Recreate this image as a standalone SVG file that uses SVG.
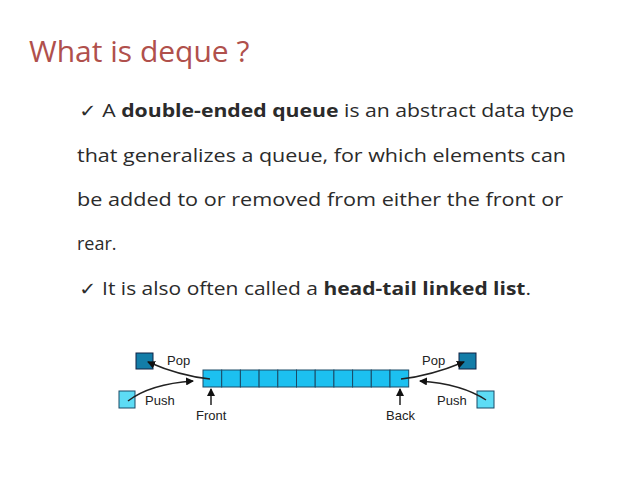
<svg xmlns="http://www.w3.org/2000/svg" width="638" height="479" viewBox="0 0 638 479">
<style>
.t{font-family:"Open Sans","Liberation Sans",sans-serif;font-size:18px;fill:#2b2b2b}
.l{font-family:"Liberation Sans",Arial,sans-serif;font-size:13px;fill:#222}
.c{fill:#1cc0f0;stroke:#1a4a66;stroke-width:1}
.ln{fill:none;stroke:#222;stroke-width:1.5}
</style>
<defs><marker id="a" markerWidth="8" markerHeight="8" refX="7" refY="4" orient="auto" markerUnits="userSpaceOnUse"><path d="M0,0L8,4L0,8z" fill="#111"/></marker></defs>
<rect width="638" height="479" fill="#fff"/>
<text x="29" y="62" font-family="'Open Sans','Liberation Sans',sans-serif" font-size="30" fill="#b0504c">What is deque ?</text>
<text class="t" x="79" y="117" textLength="495" lengthAdjust="spacingAndGlyphs"><tspan font-family="DejaVu Sans" font-weight="bold">✓</tspan> A <tspan font-weight="bold">double-ended queue</tspan> is an abstract data type</text>
<text class="t" x="77" y="162" textLength="489" lengthAdjust="spacingAndGlyphs">that generalizes a queue, for which elements can</text>
<text class="t" x="77" y="206" textLength="486" lengthAdjust="spacingAndGlyphs">be added to or removed from either the front or</text>
<text class="t" x="77" y="250">rear.</text>
<text class="t" x="79" y="295" textLength="452" lengthAdjust="spacingAndGlyphs"><tspan font-family="DejaVu Sans" font-weight="bold">✓</tspan> It is also often called a <tspan font-weight="bold">head-tail linked list</tspan>.</text>
<g id="queue">
<rect class="c" x="203" y="370" width="18.7" height="17"/><rect class="c" x="221.7" y="370" width="18.7" height="17"/><rect class="c" x="240.4" y="370" width="18.7" height="17"/><rect class="c" x="259.1" y="370" width="18.7" height="17"/><rect class="c" x="277.8" y="370" width="18.7" height="17"/><rect class="c" x="296.5" y="370" width="18.7" height="17"/><rect class="c" x="315.2" y="370" width="18.7" height="17"/><rect class="c" x="333.9" y="370" width="18.7" height="17"/><rect class="c" x="352.6" y="370" width="18.7" height="17"/><rect class="c" x="371.3" y="370" width="18.7" height="17"/><rect class="c" x="390" y="370" width="18.7" height="17"/>
</g>
<g id="popL"><rect x="136" y="353" width="17" height="16" fill="#137da8" stroke="#124" /></g>
<g id="pushL"><rect x="119" y="391" width="16" height="17" fill="#5ddcf5" stroke="#1a4a66"/></g>
<g id="popR"><rect x="459" y="353" width="17" height="16" fill="#137da8" stroke="#124"/></g>
<g id="pushR"><rect x="477" y="391" width="17" height="17" fill="#5ddcf5" stroke="#1a4a66"/></g>
<g id="connectors">
<path class="ln" d="M210,379 Q180,376 148,362" marker-end="url(#a)"/>
<path class="ln" d="M128,401 Q150,384 193,381" marker-end="url(#a)"/>
<path class="ln" d="M401,379 Q430,376 464,362" marker-end="url(#a)"/>
<path class="ln" d="M486,400 Q462,384 420,381" marker-end="url(#a)"/>
<path class="ln" d="M211,405 V389" marker-end="url(#a)"/>
<path class="ln" d="M400,405 V389" marker-end="url(#a)"/>
</g>
<text class="l" x="167" y="365">Pop</text>
<text class="l" x="145" y="405">Push</text>
<text class="l" x="196" y="420">Front</text>
<text class="l" x="386" y="420">Back</text>
<text class="l" x="422" y="365">Pop</text>
<text class="l" x="437" y="405">Push</text>
</svg>
